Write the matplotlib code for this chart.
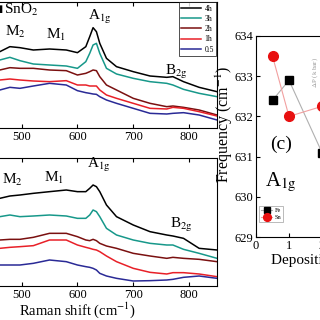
import matplotlib
matplotlib.use("Agg")
import matplotlib.pyplot as plt

plt.rcParams['font.family'] = ['Liberation Serif', 'DejaVu Serif']
plt.rcParams['mathtext.fontset'] = 'stix'

# Raman shift grid (cm-1)
shift = [461, 479, 497, 521, 550, 580, 600, 615, 622, 628, 634, 640, 652,
         670, 700, 730, 760, 771, 790, 818, 850]
labels = ['4h', '3h', '2h', '1h', '0.5']
colors = ['#000000', '#17988a', '#7a1010', '#e82028', '#2a2a96']

# top panel intensities (a.u., offset)
top_4h = [2.45, 2.60, 2.57, 2.50, 2.53, 2.50, 2.42, 2.60, 2.90, 3.17, 3.05,
          2.70, 2.25, 2.00, 1.85, 1.72, 1.68, 1.70, 1.55, 1.38, 1.25]
top_3h = [2.20, 2.28, 2.18, 2.08, 2.05, 2.02, 1.95, 2.15, 2.40, 2.65, 2.70,
          2.40, 1.95, 1.78, 1.65, 1.55, 1.50, 1.45, 1.32, 1.20, 1.10]
top_2h = [1.90, 1.97, 1.95, 1.95, 1.90, 1.88, 1.75, 1.80, 1.85, 1.90, 1.88,
          1.70, 1.45, 1.30, 1.05, 0.90, 0.80, 0.82, 0.78, 0.70, 0.55]
top_1h = [1.60, 1.63, 1.60, 1.57, 1.55, 1.58, 1.45, 1.45, 1.42, 1.42, 1.42,
          1.30, 1.15, 1.05, 0.90, 0.75, 0.73, 0.78, 0.75, 0.65, 0.52]
top_05 = [1.30, 1.38, 1.35, 1.42, 1.50, 1.45, 1.28, 1.22, 1.20, 1.18, 1.17,
          1.10, 1.00, 0.90, 0.75, 0.60, 0.58, 0.60, 0.62, 0.55, 0.40]

# bottom panel intensities (a.u., offset)
bot_4h = [2.75, 2.82, 2.85, 2.90, 2.95, 3.00, 2.95, 2.95, 3.05, 3.15, 3.10,
          2.95, 2.55, 2.20, 1.95, 1.75, 1.65, 1.62, 1.55, 1.25, 1.20]
bot_3h = [2.20, 2.25, 2.20, 2.22, 2.25, 2.22, 2.15, 2.15, 2.25, 2.40, 2.35,
          2.20, 1.85, 1.65, 1.50, 1.40, 1.35, 1.35, 1.22, 1.10, 0.95]
bot_2h = [1.50, 1.52, 1.52, 1.58, 1.70, 1.70, 1.60, 1.50, 1.48, 1.52, 1.48,
          1.40, 1.32, 1.25, 1.10, 1.02, 0.95, 0.98, 0.95, 0.92, 0.85]
bot_1h = [1.25, 1.28, 1.30, 1.33, 1.50, 1.50, 1.35, 1.28, 1.25, 1.22, 1.20,
          1.15, 1.02, 0.85, 0.65, 0.53, 0.48, 0.52, 0.52, 0.48, 0.40]
bot_05 = [0.75, 0.75, 0.75, 0.80, 0.90, 0.85, 0.75, 0.70, 0.68, 0.65, 0.60,
          0.50, 0.42, 0.35, 0.27, 0.28, 0.30, 0.32, 0.38, 0.42, 0.35]

# panel (c): A1g frequency vs deposition time
time_pts = [0.5, 1, 2]
fe_freq = [632.4, 632.9, 631.1]
sn_freq = [633.5, 632.0, 632.25]

fig = plt.figure(figsize=(3.2, 3.2), dpi=100)

ax_top = fig.add_axes([-6.3 / 320, 1 - 128 / 320, 223.3 / 320, 126.5 / 320])
ax_bot = fig.add_axes([-6.3 / 320, 1 - 286 / 320, 223.3 / 320, 128 / 320])

for ax, series in [(ax_top, [top_4h, top_3h, top_2h, top_1h, top_05]),
                   (ax_bot, [bot_4h, bot_3h, bot_2h, bot_1h, bot_05])]:
    for s, c, lab in zip(series, colors, labels):
        ax.plot(shift, s, color=c, lw=1.1, label=lab)
    ax.set_xlim(450, 850)
    ax.set_xticks([500, 600, 700, 800])
    ax.set_yticks([])
    ax.tick_params(direction='in', top=True, labelsize=9, length=3, pad=2.5)
    for sp in ax.spines.values():
        sp.set_linewidth(0.8)

ax_top.set_ylim(0.16, 3.955)
ax_bot.set_ylim(0.12, 3.96)

leg = ax_top.legend(loc='upper right', fontsize=5.5, frameon=True, fancybox=False,
                    edgecolor='black', handlelength=2.6, borderaxespad=0.1,
                    labelspacing=0.3, handletextpad=0.5, borderpad=0.3)
leg.get_frame().set_linewidth(0.6)

ax_top.text(469, 3.70, 'SnO$_2$', fontsize=11, ha='left', va='center')
ax_top.text(466, 3.72, '\u25a0', fontsize=7, ha='right', va='center',
            family='DejaVu Sans')
ax_top.text(488, 3.04, 'M$_2$', fontsize=11, ha='center', va='center')
ax_top.text(561, 2.95, 'M$_1$', fontsize=11, ha='center', va='center')
ax_top.text(640, 3.49, r'A$_\mathrm{1g}$', fontsize=11, ha='center', va='center')
ax_top.text(778, 1.84, r'B$_\mathrm{2g}$', fontsize=11, ha='center', va='center')

ax_bot.text(483, 3.30, 'M$_2$', fontsize=11, ha='center', va='center')
ax_bot.text(558, 3.36, 'M$_1$', fontsize=11, ha='center', va='center')
ax_bot.text(638, 3.75, r'A$_\mathrm{1g}$', fontsize=11, ha='center', va='center')
ax_bot.text(787, 1.95, r'B$_\mathrm{2g}$', fontsize=11, ha='center', va='center')
ax_bot.set_xlabel('Raman shift (cm$^{-1}$)', fontsize=10.5)
ax_bot.xaxis.set_label_coords(83.3 / 223.3, -0.112)

# panel (c)
ax_c = fig.add_axes([256 / 320, 1 - 237 / 320, 150 / 320, 201 / 320])
ax_c.plot(time_pts, fe_freq, color='#b0b0b0', lw=0.8, marker='s', ms=6,
          mfc='black', mec='black', label='Fe')
ax_c.plot(time_pts, sn_freq, color='#f2a0a0', lw=0.8, marker='o', ms=7,
          mfc='#e81010', mec='#e81010', label='Sn')
ax_c.set_xlim(0, 150 / 33)
ax_c.set_ylim(629, 634)
ax_c.set_xticks([0, 1, 2, 3, 4])
ax_c.set_yticks([629, 630, 631, 632, 633, 634])
ax_c.tick_params(direction='in', labelsize=9, length=3, pad=2)
for sp in ax_c.spines.values():
    sp.set_linewidth(0.8)
ax_c.set_ylabel('Frequency (cm$^{-1}$)', fontsize=11.5)
ax_c.yaxis.set_label_coords(-21 / 150, 0.56)
ax_c.set_xlabel('Deposition time (h)', fontsize=11, labelpad=1)
ax_c.text(0.75, 631.3, '(c)', fontsize=14, ha='center', va='center')
ax_c.text(0.75, 630.35, r'A$_\mathrm{1g}$', fontsize=15, ha='center', va='center')
ax_c.text(1.80, 633.1, r'$\Delta$P (k bar)', fontsize=5, color='#999999',
          rotation=90, ha='center', va='center')
legc = ax_c.legend(loc='lower left', bbox_to_anchor=(0.02, 0.075), fontsize=4.5,
                   frameon=True, fancybox=False, edgecolor='#888888',
                   handlelength=1.8, borderaxespad=0.0, labelspacing=0.3,
                   handletextpad=0.4, borderpad=0.3, markerscale=0.8)
legc.get_frame().set_linewidth(0.5)

fig.savefig('out.png', dpi=100)
